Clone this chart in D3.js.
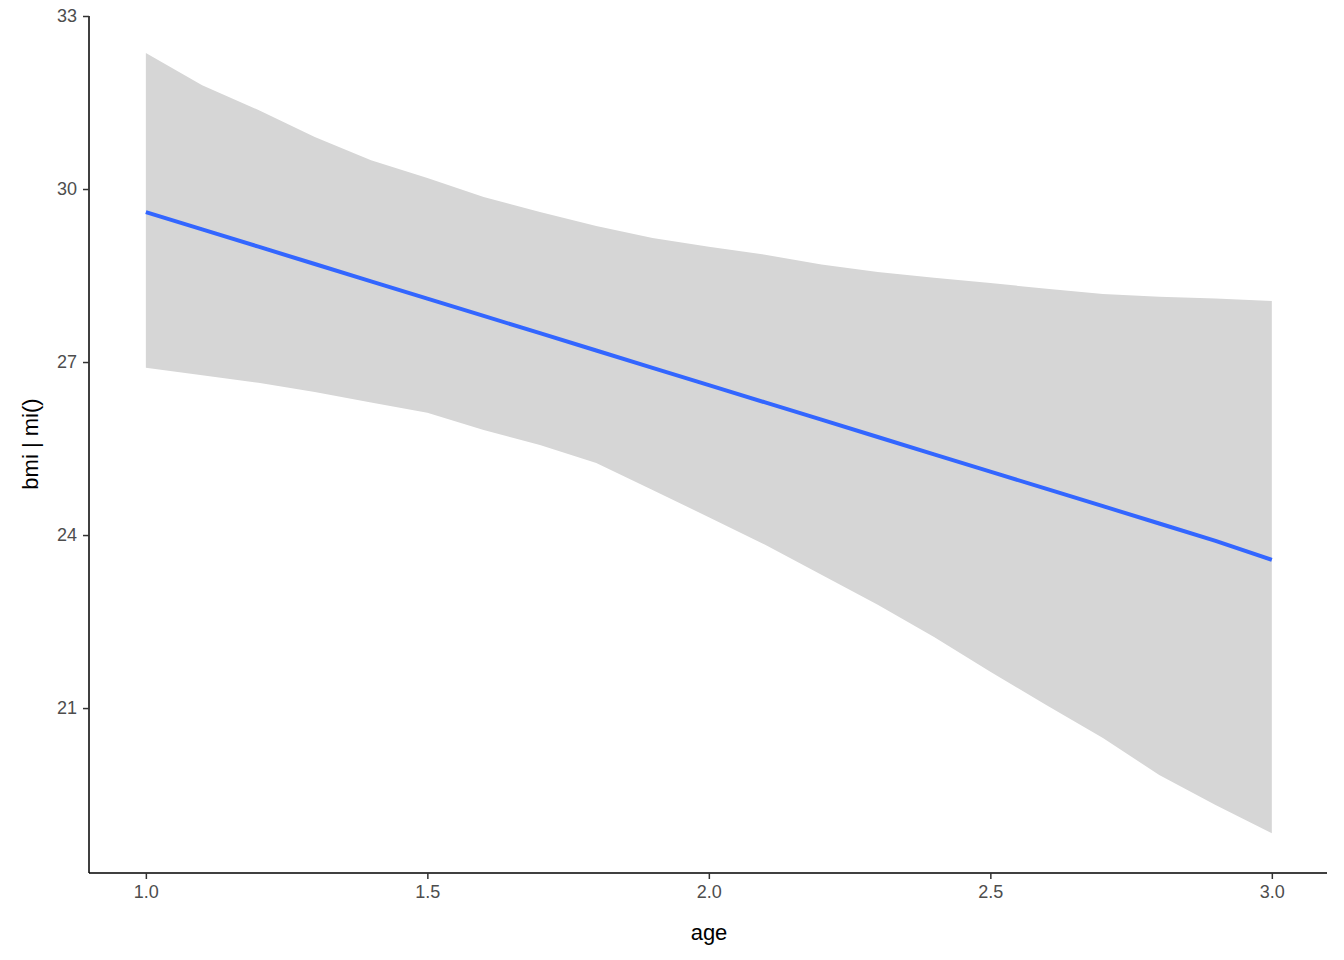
<!DOCTYPE html>
<html>
<head>
<meta charset="utf-8">
<script src="https://cdn.jsdelivr.net/npm/d3@7"></script>
<style>
  body { margin: 0; background: #fff; }
  text { font-family: "Liberation Sans", Arial, sans-serif; }
</style>
</head>
<body>
<div id="chart"></div>
<script>
// data
const ages = [1.0, 1.1, 1.2, 1.3, 1.4, 1.5, 1.6, 1.7, 1.8, 1.9, 2.0, 2.1, 2.2, 2.3, 2.4, 2.5, 2.6, 2.7, 2.8, 2.9, 3.0];
const fitted = [29.6, 29.3, 29.0, 28.7, 28.4, 28.1, 27.8, 27.5, 27.2, 26.9, 26.6, 26.3, 26.0, 25.7, 25.4, 25.1, 24.8, 24.5, 24.2, 23.9, 23.57];
const upper = [32.36, 31.8, 31.37, 30.9, 30.5, 30.19, 29.86, 29.6, 29.36, 29.15, 29.0, 28.86, 28.69, 28.56, 28.46, 28.37, 28.27, 28.18, 28.13, 28.1, 28.06];
const lower = [26.9, 26.77, 26.64, 26.48, 26.3, 26.12, 25.82, 25.56, 25.25, 24.78, 24.31, 23.83, 23.31, 22.79, 22.23, 21.63, 21.05, 20.48, 19.84, 19.32, 18.83];
const xTicks = [1.0, 1.5, 2.0, 2.5, 3.0];
const yTicks = [21, 24, 27, 30, 33];

const width = 1344, height = 960;
const x = d3.scaleLinear().domain([0.899, 3.098]).range([89, 1327]);
const y = d3.scaleLinear().domain([18.14, 33]).range([873, 16]);

const svg = d3.select('#chart').append('svg')
    .attr('width', width)
    .attr('height', height);

const rows = ages.map((a, i) => ({ a, f: fitted[i], lo: lower[i], hi: upper[i] }));

// confidence band
svg.append('path')
    .datum(rows)
    .attr('d', d3.area().x(d => x(d.a)).y0(d => y(d.lo)).y1(d => y(d.hi)))
    .attr('fill', '#d6d6d6');

// fitted line
svg.append('path')
    .datum(rows)
    .attr('d', d3.line().x(d => x(d.a)).y(d => y(d.f)))
    .attr('fill', 'none')
    .attr('stroke', '#3366ff')
    .attr('stroke-width', 4);

// axes
const xAxis = svg.append('g')
    .attr('transform', 'translate(0,873)')
    .call(d3.axisBottom(x).tickValues(xTicks).tickFormat(d3.format('.1f')).tickSizeOuter(0).tickSize(6).tickPadding(6));
const yAxis = svg.append('g')
    .attr('transform', 'translate(89,0)')
    .call(d3.axisLeft(y).tickValues(yTicks).tickSizeOuter(0).tickSize(6).tickPadding(6));

[xAxis, yAxis].forEach(g => {
    g.select('.domain').attr('stroke', '#000').attr('stroke-width', 1.5);
    g.selectAll('.tick line').attr('stroke', '#333').attr('stroke-width', 1.5);
    g.selectAll('.tick text').attr('fill', '#4d4d4d').style('font-size', '18px')
        .style('font-family', '"Liberation Sans", Arial, sans-serif');
});
xAxis.select('.domain').attr('d', 'M89,0H1327');
yAxis.select('.domain').attr('d', 'M0,873V16');

// titles
svg.append('text')
    .attr('x', 709).attr('y', 940)
    .attr('text-anchor', 'middle')
    .style('font-size', '22px')
    .text('age');
svg.append('text')
    .attr('transform', 'translate(38,444) rotate(-90)')
    .attr('text-anchor', 'middle')
    .style('font-size', '22px')
    .text('bmi | mi()');
</script>
</body>
</html>
